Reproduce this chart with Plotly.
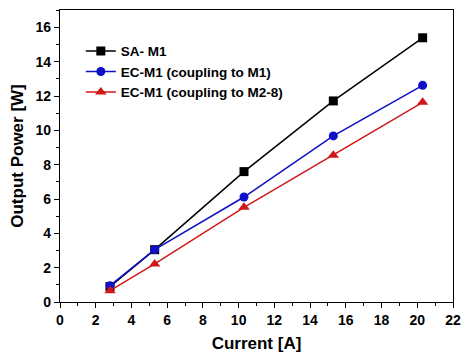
import plotly.graph_objects as go

current = [2.8, 5.3, 10.3, 15.3, 20.3]
sa_m1 = [0.9, 3.05, 7.6, 11.72, 15.4]
ec_m1_m1 = [0.95, 3.05, 6.12, 9.68, 12.63]
ec_m1_m28 = [0.66, 2.22, 5.52, 8.56, 11.64]

names = ["SA- M1", "EC-M1 (coupling to M1)", "EC-M1 (coupling to M2-8)"]
colors = ["#000000", "#1010C8", "#D01818"]
symbols = ["square", "circle", "triangle-up"]
sizes = [9, 9, 10]
series = [sa_m1, ec_m1_m1, ec_m1_m28]

fig = go.Figure()
for name, ys, c, s, sz in zip(names, series, colors, symbols, sizes):
    fig.add_trace(go.Scatter(
        x=current, y=ys, name=name, mode="lines+markers",
        line=dict(color=c, width=1.5),
        marker=dict(symbol=s, size=sz, color=c),
    ))

font_family = "Liberation Sans, Arial, sans-serif"
axis_common = dict(
    showline=True, linecolor="black", linewidth=1.2, mirror=True,
    ticks="outside", ticklen=5, tickwidth=1.2, tickcolor="black",
    showgrid=False, zeroline=False, automargin=False,
    tickfont=dict(family=font_family, size=14, color="black", weight="bold"),
)
# page body has an 8px margin, so the figure is sized/offset to compensate
fig.update_layout(
    width=466, height=348,
    margin=dict(l=52, r=21, t=2, b=54),
    paper_bgcolor="white", plot_bgcolor="white",
    showlegend=True,
    legend=dict(x=0.053, y=0.912, xanchor="left", yanchor="top",
                bgcolor="rgba(0,0,0,0)",
                font=dict(family=font_family, size=13.5, color="black", weight="bold"),
                tracegroupgap=0, itemwidth=30),
    xaxis=dict(range=[0, 22], dtick=2, tick0=0,
               minor=dict(dtick=1, ticklen=3, ticks="outside", tickcolor="black"),
               title=dict(text="Current [A]", standoff=10,
                          font=dict(family=font_family, size=17, color="black", weight="bold")),
               **axis_common),
    yaxis=dict(range=[0, 17.02], dtick=2, tick0=0,
               minor=dict(dtick=1, ticklen=3, ticks="outside", tickcolor="black"),
               title=dict(text="Output Power [W]", standoff=8,
                          font=dict(family=font_family, size=17, color="black", weight="bold")),
               **axis_common),
)
fig.write_html("out.html")
